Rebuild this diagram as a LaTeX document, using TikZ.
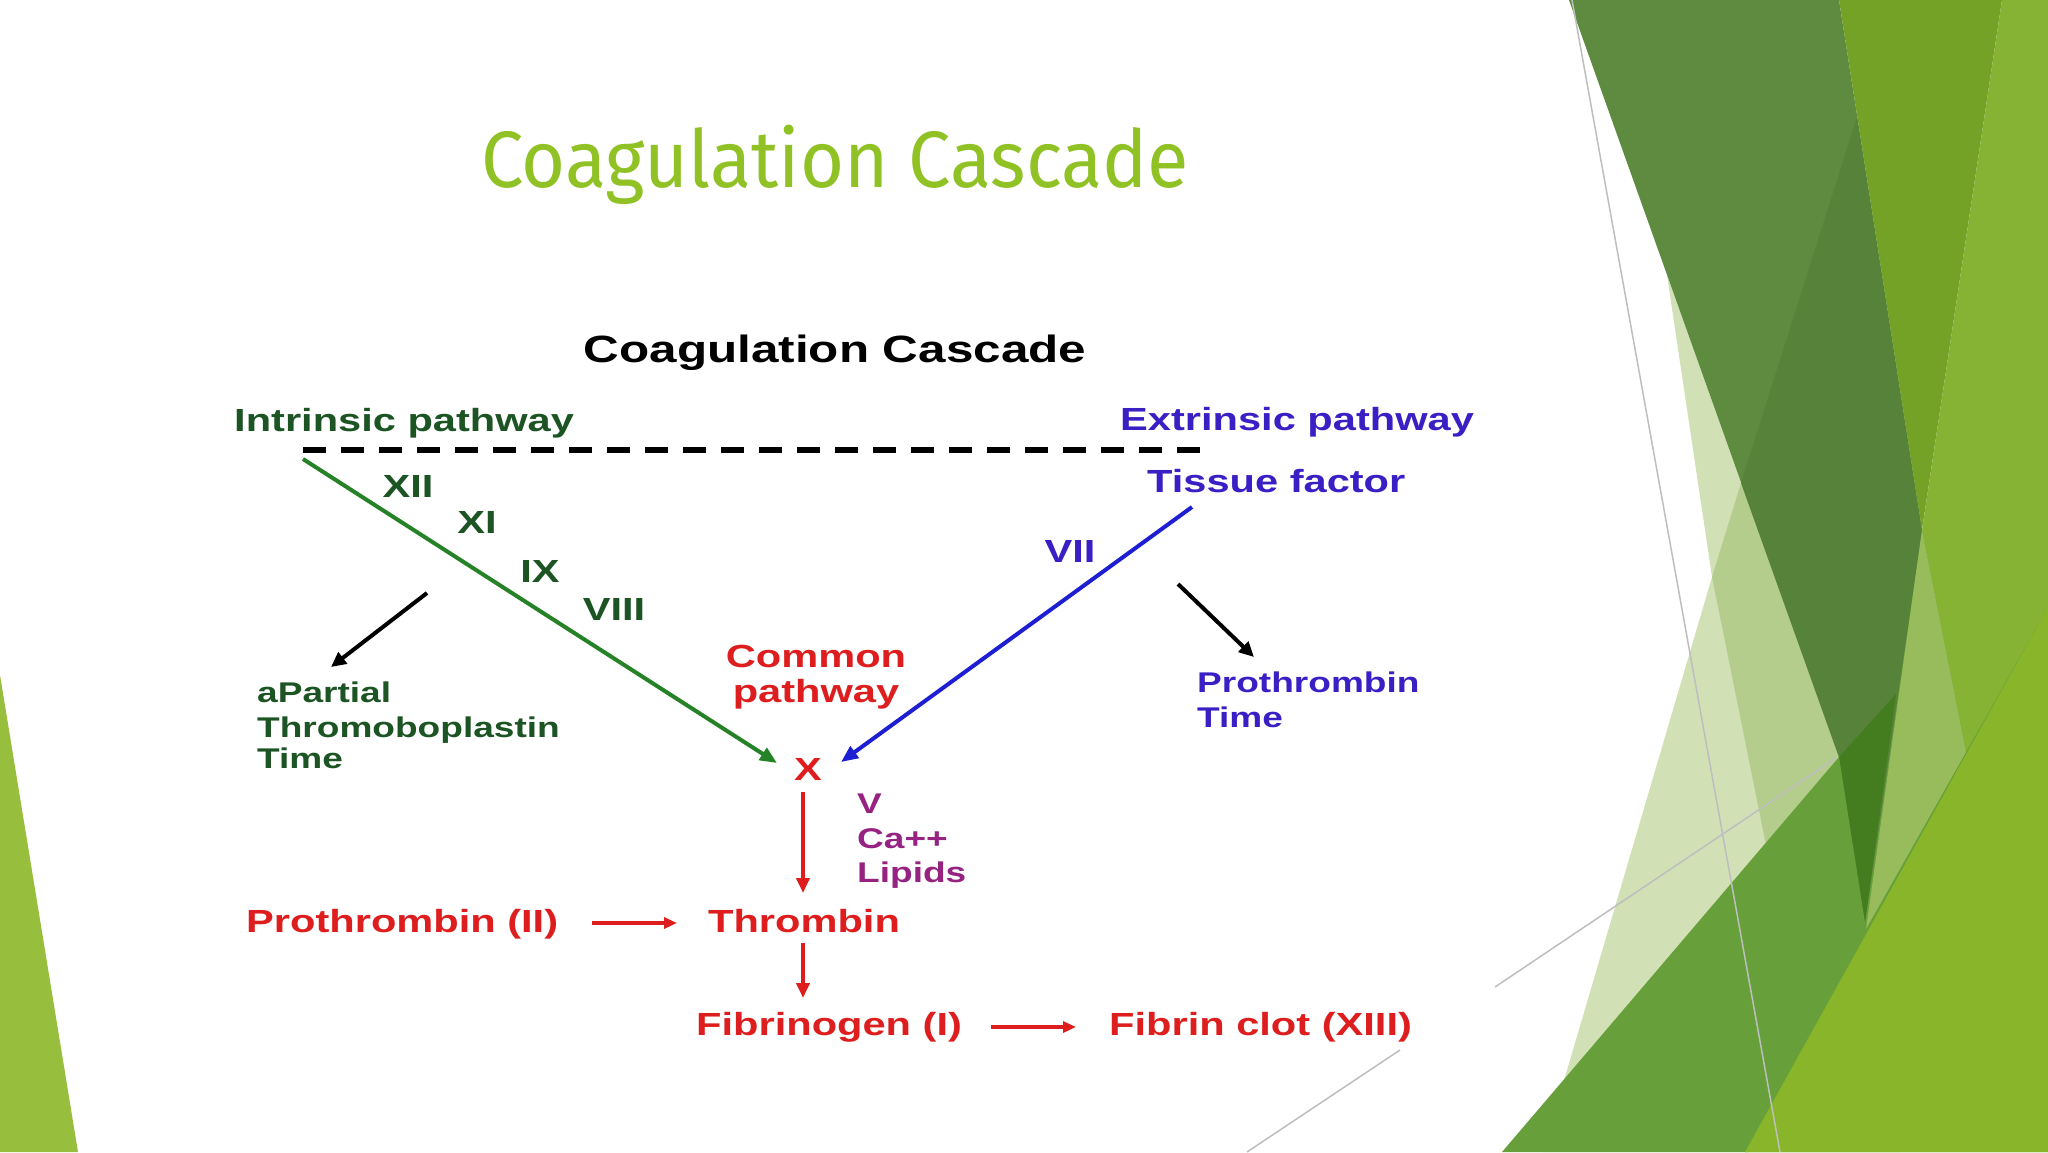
\documentclass[tikz,border=0pt]{standalone}
\usepackage{fontspec}
\usepackage{graphicx}
\usetikzlibrary{arrows.meta}
\newfontfamily\dgfont[FakeStretch=1.3]{Liberation Sans}
\newfontfamily\ttlfont{Fira Sans}
\definecolor{facet}{RGB}{144,194,38}
\definecolor{igreen}{RGB}{28,84,36}
\definecolor{agreen}{RGB}{38,130,38}
\definecolor{ebl}{RGB}{58,32,196}
\definecolor{ablue}{RGB}{30,30,210}
\definecolor{cred}{RGB}{222,30,30}
\definecolor{cpurp}{RGB}{150,34,130}
\definecolor{vpale}{RGB}{210,224,182}
\definecolor{mpale}{RGB}{181,205,140}
\definecolor{dkg}{RGB}{95,139,64}
\definecolor{dkg2}{RGB}{86,130,58}
\definecolor{dkg3}{RGB}{67,125,32}
\definecolor{ygr}{RGB}{116,162,39}
\definecolor{lgr}{RGB}{134,179,52}
\definecolor{olv}{RGB}{152,188,92}
\definecolor{bgr}{RGB}{136,181,42}
\definecolor{band}{RGB}{103,160,58}
\definecolor{ltri}{RGB}{151,190,61}
\definecolor{gline}{RGB}{190,190,190}
\newlength\ttlw
\newcommand\fittitle{%
  \settowidth\ttlw{\ttlfont\fontsize{80}{90}\selectfont Coagulation Cascade}%
  \pgfmathsetmacro\ttlsx{708/\ttlw}%
  \scalebox{\ttlsx}[1]{\ttlfont\fontsize{80}{90}\selectfont Coagulation Cascade}}
\tikzset{
  lbl/.style={font=\dgfont\bfseries\fontsize{32}{36}\selectfont, inner sep=0pt},
  sml/.style={font=\dgfont\bfseries\fontsize{28.5}{33}\selectfont, inner sep=0pt},
  bigarr/.style={line width=4pt, -{Triangle[length=17pt,width=14pt]}},
  blkarr/.style={line width=4pt, black, -{Triangle[length=15pt,width=14pt]}},
  redv/.style={line width=4pt, cred, -{Triangle[length=15pt,width=13pt]}},
  redh/.style={line width=3.5pt, cred, -{Triangle[length=13pt,width=11pt]}},
  deco/.style={line width=1.5pt, gline},
}
\begin{document}
\begin{tikzpicture}[x=1pt,y=-1pt]
\useasboundingbox (0,0) rectangle (2048,1152);
\fill[white] (0,0) rectangle (2048,1152);
% ---------- background decoration ----------
\fill[ltri] (0,675) -- (78,1152) -- (0,1152) -- cycle;
\fill[vpale] (1667,275) -- (1712,577) -- (1543,1152) -- (1900,1152) -- (1839,757) -- cycle;
\fill[mpale] (1741,483) -- (1712,577) -- (1766,845) -- (1839,757) -- cycle;
\fill[band] (1839,757) -- (1922,530) -- (2048,600) -- (2048,1152) -- (1745,1152) -- cycle;
\fill[dkg] (1569,0) -- (1839,0) -- (1922,530) -- (1864,929) -- (1839,757) -- cycle;
\fill[dkg2] (1857,117) -- (1922,530) -- (1864,929) -- (1839,757) -- (1741,483) -- cycle;
\fill[ygr] (1839,0) -- (2002,0) -- (1922,530) -- cycle;
\fill[lgr] (2002,0) -- (2048,0) -- (2048,607) -- (1966,752) -- (1922,530) -- cycle;
\fill[olv] (1922,530) -- (1966,752) -- (1866,929) -- cycle;
\fill[dkg3] (1839,757) -- (1896,694) -- (1864,929) -- cycle;
\fill[band] (1502,1152) -- (1839,757) -- (1866,929) -- (1748,1152) -- cycle;
\fill[bgr] (2048,607) -- (2048,1152) -- (1745,1152) -- cycle;
\draw[deco] (1572,0) -- (1780,1152);
\draw[deco] (1247,1152) -- (1400,1050);
\draw[deco] (1495,987) -- (1836,758);
% ---------- slide title ----------
\node[anchor=base, inner sep=0pt, text=facet] (title) at (835,187) {\fittitle};
% ---------- diagram texts ----------
\node[anchor=base, inner sep=0pt, font=\dgfont\bfseries\fontsize{38}{44}\selectfont] (sub) at (835,362) {Coagulation Cascade};
\node[lbl, anchor=base west, text=igreen] (intr) at (234,431) {Intrinsic pathway};
\node[lbl, anchor=base west, text=ebl] (extr) at (1120,430) {Extrinsic pathway};
\node[lbl, anchor=base west, text=ebl] (tissue) at (1147,492) {Tissue factor};
\node[lbl, anchor=base, text=igreen] (f12) at (408,497) {XII};
\node[lbl, anchor=base, text=igreen] (f11) at (477,533) {XI};
\node[lbl, anchor=base, text=igreen] (f9) at (540,582) {IX};
\node[lbl, anchor=base, text=igreen] (f8) at (614,620) {VIII};
\node[lbl, anchor=base, text=ebl] (f7) at (1070,562) {VII};
\node[sml, anchor=base west, text=igreen] (ap1) at (257,702) {aPartial};
\node[sml, anchor=base west, text=igreen] (ap2) at (257,737) {Thromoboplastin};
\node[sml, anchor=base west, text=igreen] (ap3) at (257,768) {Time};
\node[lbl, anchor=base, text=cred] (com1) at (816,667) {Common};
\node[lbl, anchor=base, text=cred] (com2) at (816,702) {pathway};
\node[sml, anchor=base west, text=ebl] (pt1) at (1197,692) {Prothrombin};
\node[sml, anchor=base west, text=ebl] (pt2) at (1197,727) {Time};
\node[lbl, anchor=base, text=cred] (fx) at (808,780) {X};
\node[sml, anchor=base west, text=cpurp] (fv) at (857,813) {V};
\node[sml, anchor=base west, text=cpurp] (ca) at (857,848) {Ca++};
\node[sml, anchor=base west, text=cpurp] (lip) at (857,882) {Lipids};
\node[lbl, anchor=base west, text=cred] (pro) at (246,932) {Prothrombin (II)};
\node[lbl, anchor=base, text=cred] (thr) at (804,932) {Thrombin};
\node[lbl, anchor=base west, text=cred] (fib) at (696,1035) {Fibrinogen (I)};
\node[lbl, anchor=base west, text=cred] (clot) at (1109,1035) {Fibrin clot (XIII)};
% ---------- connector end points ----------
\coordinate (d1) at (303,450);
\coordinate (d2) at (1205,450);
\coordinate (gs) at (303,459);
\coordinate (ge) at (777,763);
\coordinate (bs) at (1192,507);
\coordinate (be) at (841,762);
\coordinate (kls) at (427,593);
\coordinate (kle) at (331,667);
\coordinate (krs) at (1178,584);
\coordinate (kre) at (1254,657);
\coordinate (r1s) at (803,792);
\coordinate (r1e) at (803,893);
\coordinate (r2s) at (803,943);
\coordinate (r2e) at (803,998);
\coordinate (h1s) at (592,923);
\coordinate (h1e) at (677,923);
\coordinate (h2s) at (991,1027);
\coordinate (h2e) at (1076,1027);
% ---------- connectors ----------
\draw[line width=5.5pt, dash pattern=on 23pt off 15pt] (d1) -- (d2);
\draw[bigarr, agreen] (gs) -- (ge);
\draw[bigarr, ablue] (bs) -- (be);
\draw[blkarr] (kls) -- (kle);
\draw[blkarr] (krs) -- (kre);
\draw[redv] (r1s) -- (r1e);
\draw[redv] (r2s) -- (r2e);
\draw[redh] (h1s) -- (h1e);
\draw[redh] (h2s) -- (h2e);
\end{tikzpicture}
\end{document}
